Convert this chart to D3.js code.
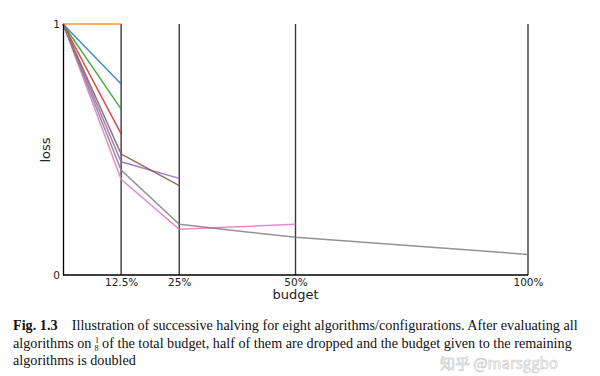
<!DOCTYPE html>
<html><head><meta charset="utf-8">
<script src="https://cdn.jsdelivr.net/npm/d3@7"></script>
<style>body{margin:0;background:#fff}svg{display:block}</style>
</head><body>
<svg id="c" width="600" height="376"></svg>
<script>
const budgets = [0, 12.5, 25, 50, 100];
const tickLabels = ["12.5%", "25%", "50%", "100%"];
const tickValues = [12.5, 25, 50, 100];
const seriesNames = ["blue","orange","green","red","purple","brown","pink","gray"];
const seriesColors = ["#1f77b4","#ff7f0e","#2ca02c","#d62728","#9467bd","#8c564b","#e377c2","#7f7f7f"];
const lossBlue   = [1, 0.761];
const lossOrange = [1, 1.0];
const lossGreen  = [1, 0.661];
const lossRed    = [1, 0.562];
const lossPurple = [1, 0.451, 0.385];
const lossBrown  = [1, 0.482, 0.356];
const lossPink   = [1, 0.381, 0.182, 0.202];
const lossGray   = [1, 0.418, 0.202, 0.150, 0.082];
const allLoss = [lossBlue, lossOrange, lossGreen, lossRed, lossPurple, lossBrown, lossPink, lossGray];

const svg = d3.select("#c");
const x = d3.scaleLinear().domain([0, 100]).range([63, 528]);
const y = d3.scaleLinear().domain([0, 1]).range([275, 24]);

// vertical budget lines
svg.append("g").selectAll("line").data(tickValues).join("line")
  .attr("x1", d => x(d)).attr("x2", d => x(d))
  .attr("y1", y(1)).attr("y2", y(0))
  .attr("stroke", "#3a3a3a").attr("stroke-width", 1.4);

// series
const line = d3.line().x((d,i) => x(budgets[i])).y(d => y(d));
svg.append("g").selectAll("path").data(allLoss).join("path")
  .attr("d", d => line(d))
  .attr("fill", "none")
  .attr("stroke", (d,i) => seriesColors[i])
  .attr("stroke-width", 1.5)
  .attr("stroke-opacity", 0.85);

// axes
const xAxis = d3.axisBottom(x).tickValues(tickValues).tickFormat((d,i) => tickLabels[i]).tickSize(0).tickPadding(4);
const gx = svg.append("g").attr("transform", `translate(0,${y(0)})`).call(xAxis);
gx.select(".domain").attr("stroke", "#000").attr("stroke-width", 1.3).attr("d", `M${x(0)},0H${x(100)}`);
gx.selectAll("text").attr("font-family", "DejaVu Sans").attr("font-size", 10.5).attr("fill", "#222");

const yAxis = d3.axisLeft(y).tickValues([0, 1]).tickFormat(d3.format("d")).tickSize(0).tickPadding(3);
const gy = svg.append("g").attr("transform", `translate(${x(0)},0)`).call(yAxis);
gy.select(".domain").attr("stroke", "#000").attr("stroke-width", 1.3);
gy.selectAll("text").attr("font-family", "DejaVu Sans").attr("font-size", 10.5).attr("fill", "#222");

svg.append("text").attr("x", x(50)).attr("y", 299).attr("text-anchor", "middle")
  .attr("font-family", "DejaVu Sans").attr("font-size", 13).attr("fill", "#222").text("budget");
svg.append("text").attr("transform", "translate(50,150) rotate(-90)").attr("text-anchor", "middle")
  .attr("font-family", "DejaVu Sans").attr("font-size", 13).attr("fill", "#222").text("loss");

// caption
const cap = svg.append("g").attr("font-family", "Liberation Serif").attr("font-size", 14.2).attr("fill", "#111");
const t1 = cap.append("text").attr("x", 13).attr("y", 330);
t1.append("tspan").attr("font-weight", "bold").text("Fig. 1.3");
t1.append("tspan").text("\u2003Illustration of successive halving for eight algorithms/configurations. After evaluating all");
const t2 = cap.append("text").attr("x", 13).attr("y", 347.5);
t2.append("tspan").text("algorithms on ");
t2.append("tspan").attr("font-size", 8).attr("dy", -5).text("1");
t2.append("tspan").attr("font-size", 8).attr("dx", -4.4).attr("dy", 8).text("8");
t2.append("tspan").attr("dy", -3).text(" of the total budget, half of them are dropped and the budget given to the remaining");
cap.append("text").attr("x", 13).attr("y", 365).text("algorithms is doubled");

// watermark
svg.append("text").attr("x", 440).attr("y", 369).attr("font-family", "Noto Sans CJK SC").attr("font-size", 15)
  .attr("fill", "#fff").attr("stroke", "#bbb").attr("stroke-width", 0.6).attr("opacity", 0.8).text("知乎 @marsggbo");
</script>
</body></html>
